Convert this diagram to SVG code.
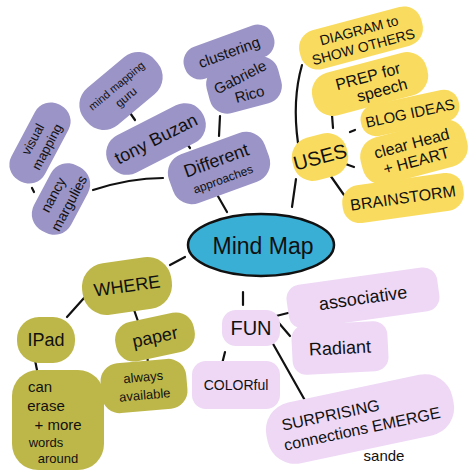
<svg xmlns="http://www.w3.org/2000/svg" width="474" height="474" viewBox="0 0 474 474">
<style>
text{font-family:"Liberation Sans","DejaVu Sans",sans-serif;fill:#111;text-anchor:middle;dominant-baseline:central}
.p{fill:#9b94c6}.y{fill:#f9dc5f}.o{fill:#bdb74a}.l{fill:#eed8f5}
.c path,.c line{stroke:#111;stroke-width:2.2;fill:none;stroke-linecap:round}
</style>
<rect width="474" height="474" fill="#fff"/>
<g class="c">
<line x1="222" y1="66" x2="221" y2="72"/>
<line x1="220" y1="116" x2="219" y2="136"/>
<line x1="182" y1="137" x2="190" y2="148"/>
<line x1="128" y1="110" x2="135" y2="120"/>
<path d="M93 190 Q130 178 163 178"/>
<line x1="32" y1="188" x2="34" y2="192"/>
<line x1="215" y1="191" x2="227" y2="212"/>
<path d="M298 143 Q292 100 302 65"/>
<line x1="332" y1="115" x2="333" y2="128"/>
<line x1="350" y1="132" x2="355" y2="130"/>
<line x1="340" y1="162" x2="354" y2="167"/>
<line x1="330" y1="175" x2="344" y2="195"/>
<line x1="296" y1="179" x2="292" y2="207"/>
<line x1="170" y1="265" x2="185" y2="257"/>
<line x1="67" y1="317" x2="84" y2="298"/>
<line x1="132" y1="304" x2="140" y2="327"/>
<line x1="147" y1="354" x2="148" y2="363"/>
<line x1="35" y1="360" x2="37" y2="370"/>
<line x1="243" y1="292" x2="243" y2="305"/>
<path d="M276 316 L292 312"/>
<line x1="278" y1="322" x2="290" y2="336"/>
<line x1="272" y1="342" x2="307" y2="404"/>
<line x1="225" y1="352" x2="222" y2="364"/>
</g>
<g id="mindmap"><ellipse cx="261" cy="245" rx="73" ry="31" fill="#3aafd6" stroke="#111" stroke-width="2.5"/><text x="263" y="246" font-size="23">Mind Map</text></g>
<g id="clustering" transform="translate(229 52) rotate(-20)"><rect class="p" x="-47" y="-17" width="94" height="34" rx="16"/><text font-size="15">clustering</text></g>
<g id="gabriele" transform="translate(244 85) rotate(-15)"><rect class="p" x="-37" y="-24" width="74" height="48" rx="18"/><text y="-9" font-size="15" transform="rotate(-12)">Gabriele</text><text x="3" y="10" font-size="15">Rico</text></g>
<g id="guru" transform="translate(121 91) rotate(-40)"><rect class="p" x="-46" y="-24" width="92" height="48" rx="22"/><text y="-7" font-size="11">mind mapping</text><text y="8" font-size="12">guru</text></g>
<g id="buzan" transform="translate(156 139) rotate(-27)"><rect class="p" x="-53" y="-21" width="106" height="42" rx="20"/><text font-size="18">tony Buzan</text></g>
<g id="visual" transform="translate(40 143) rotate(-62)"><rect class="p" x="-43" y="-19" width="86" height="38" rx="18"/><text y="-8" font-size="13">visual</text><text y="8" font-size="13">mapping</text></g>
<g id="nancy" transform="translate(61 199) rotate(-62)"><rect class="p" x="-37" y="-21" width="74" height="42" rx="19"/><text y="-9" font-size="14">nancy</text><text y="9" font-size="14">margulies</text></g>
<g id="different" transform="translate(219 168) rotate(-20)"><rect class="p" x="-51" y="-26" width="102" height="52" rx="20"/><text y="-8" font-size="18">Different</text><text y="12" font-size="12">approaches</text></g>
<g id="diagram" transform="translate(361 38) rotate(-15)"><rect class="y" x="-63" y="-20" width="126" height="40" rx="18"/><text y="-8" font-size="14">DIAGRAM to</text><text y="9" font-size="14">SHOW OTHERS</text></g>
<g id="prep" transform="translate(370 84) rotate(-15)"><rect class="y" x="-59" y="-22" width="118" height="44" rx="20"/><text y="-8" font-size="16">PREP for</text><text x="10" y="9" font-size="16">speech</text></g>
<g id="blog" transform="translate(410 113) rotate(-12)"><rect class="y" x="-50" y="-16" width="100" height="32" rx="15"/><text font-size="15">BLOG IDEAS</text></g>
<g id="clear" transform="translate(414 152) rotate(-15)"><rect class="y" x="-54" y="-24" width="108" height="48" rx="20"/><text y="-9" font-size="16">clear Head</text><text y="9" font-size="16">+ HEART</text></g>
<g id="brainstorm" transform="translate(403 198) rotate(-8)"><rect class="y" x="-61" y="-19" width="122" height="38" rx="17"/><text font-size="16">BRAINSTORM</text></g>
<g id="uses" transform="translate(320 157) rotate(-15)"><rect class="y" x="-28" y="-22" width="56" height="44" rx="20"/><text font-size="20">USES</text></g>
<g id="where" transform="translate(127 286) rotate(-8)"><rect class="o" x="-45" y="-26" width="90" height="52" rx="24"/><text font-size="18">WHERE</text></g>
<g id="ipad" transform="translate(46 340)"><rect class="o" x="-29" y="-23" width="58" height="46" rx="22"/><text font-size="18">IPad</text></g>
<g id="paper" transform="translate(155 337) rotate(-12)"><rect class="o" x="-40" y="-20" width="80" height="40" rx="18"/><text font-size="18">paper</text></g>
<g id="always" transform="translate(144 386) rotate(-5)"><rect class="o" x="-43" y="-25" width="86" height="50" rx="18"/><text y="-9" font-size="13">always</text><text y="9" font-size="13">available</text></g>
<g id="erase" transform="translate(58 420)"><rect class="o" x="-46" y="-50" width="92" height="100" rx="26"/><text x="-18" y="-34" font-size="15">can</text><text x="-12" y="-15" font-size="15">erase</text><text y="4" font-size="15">+ more</text><text x="-12" y="22" font-size="13">words</text><text y="38" font-size="13">around</text></g>
<g id="fun" transform="translate(251 328)"><rect class="l" x="-29" y="-18" width="58" height="36" rx="14"/><text font-size="20">FUN</text></g>
<g id="colorful" transform="translate(236 385)"><rect class="l" x="-44" y="-24" width="88" height="48" rx="14"/><text font-size="14">COLORful</text></g>
<g id="associative" transform="translate(363 298) rotate(-8)"><rect class="l" x="-76" y="-22" width="152" height="44" rx="14"/><text font-size="18">associative</text></g>
<g id="radiant" transform="translate(340 348) rotate(-3)"><rect class="l" x="-48" y="-25" width="96" height="50" rx="14"/><text font-size="18">Radiant</text></g>
<g id="surprising" transform="translate(360 419) rotate(-12)"><rect class="l" x="-95" y="-31" width="190" height="62" rx="28"/><text x="-28" y="-10" font-size="16">SURPRISING</text><text y="10" font-size="16">connections EMERGE</text></g>
<text x="384" y="455" font-size="15">sande</text>
</svg>
